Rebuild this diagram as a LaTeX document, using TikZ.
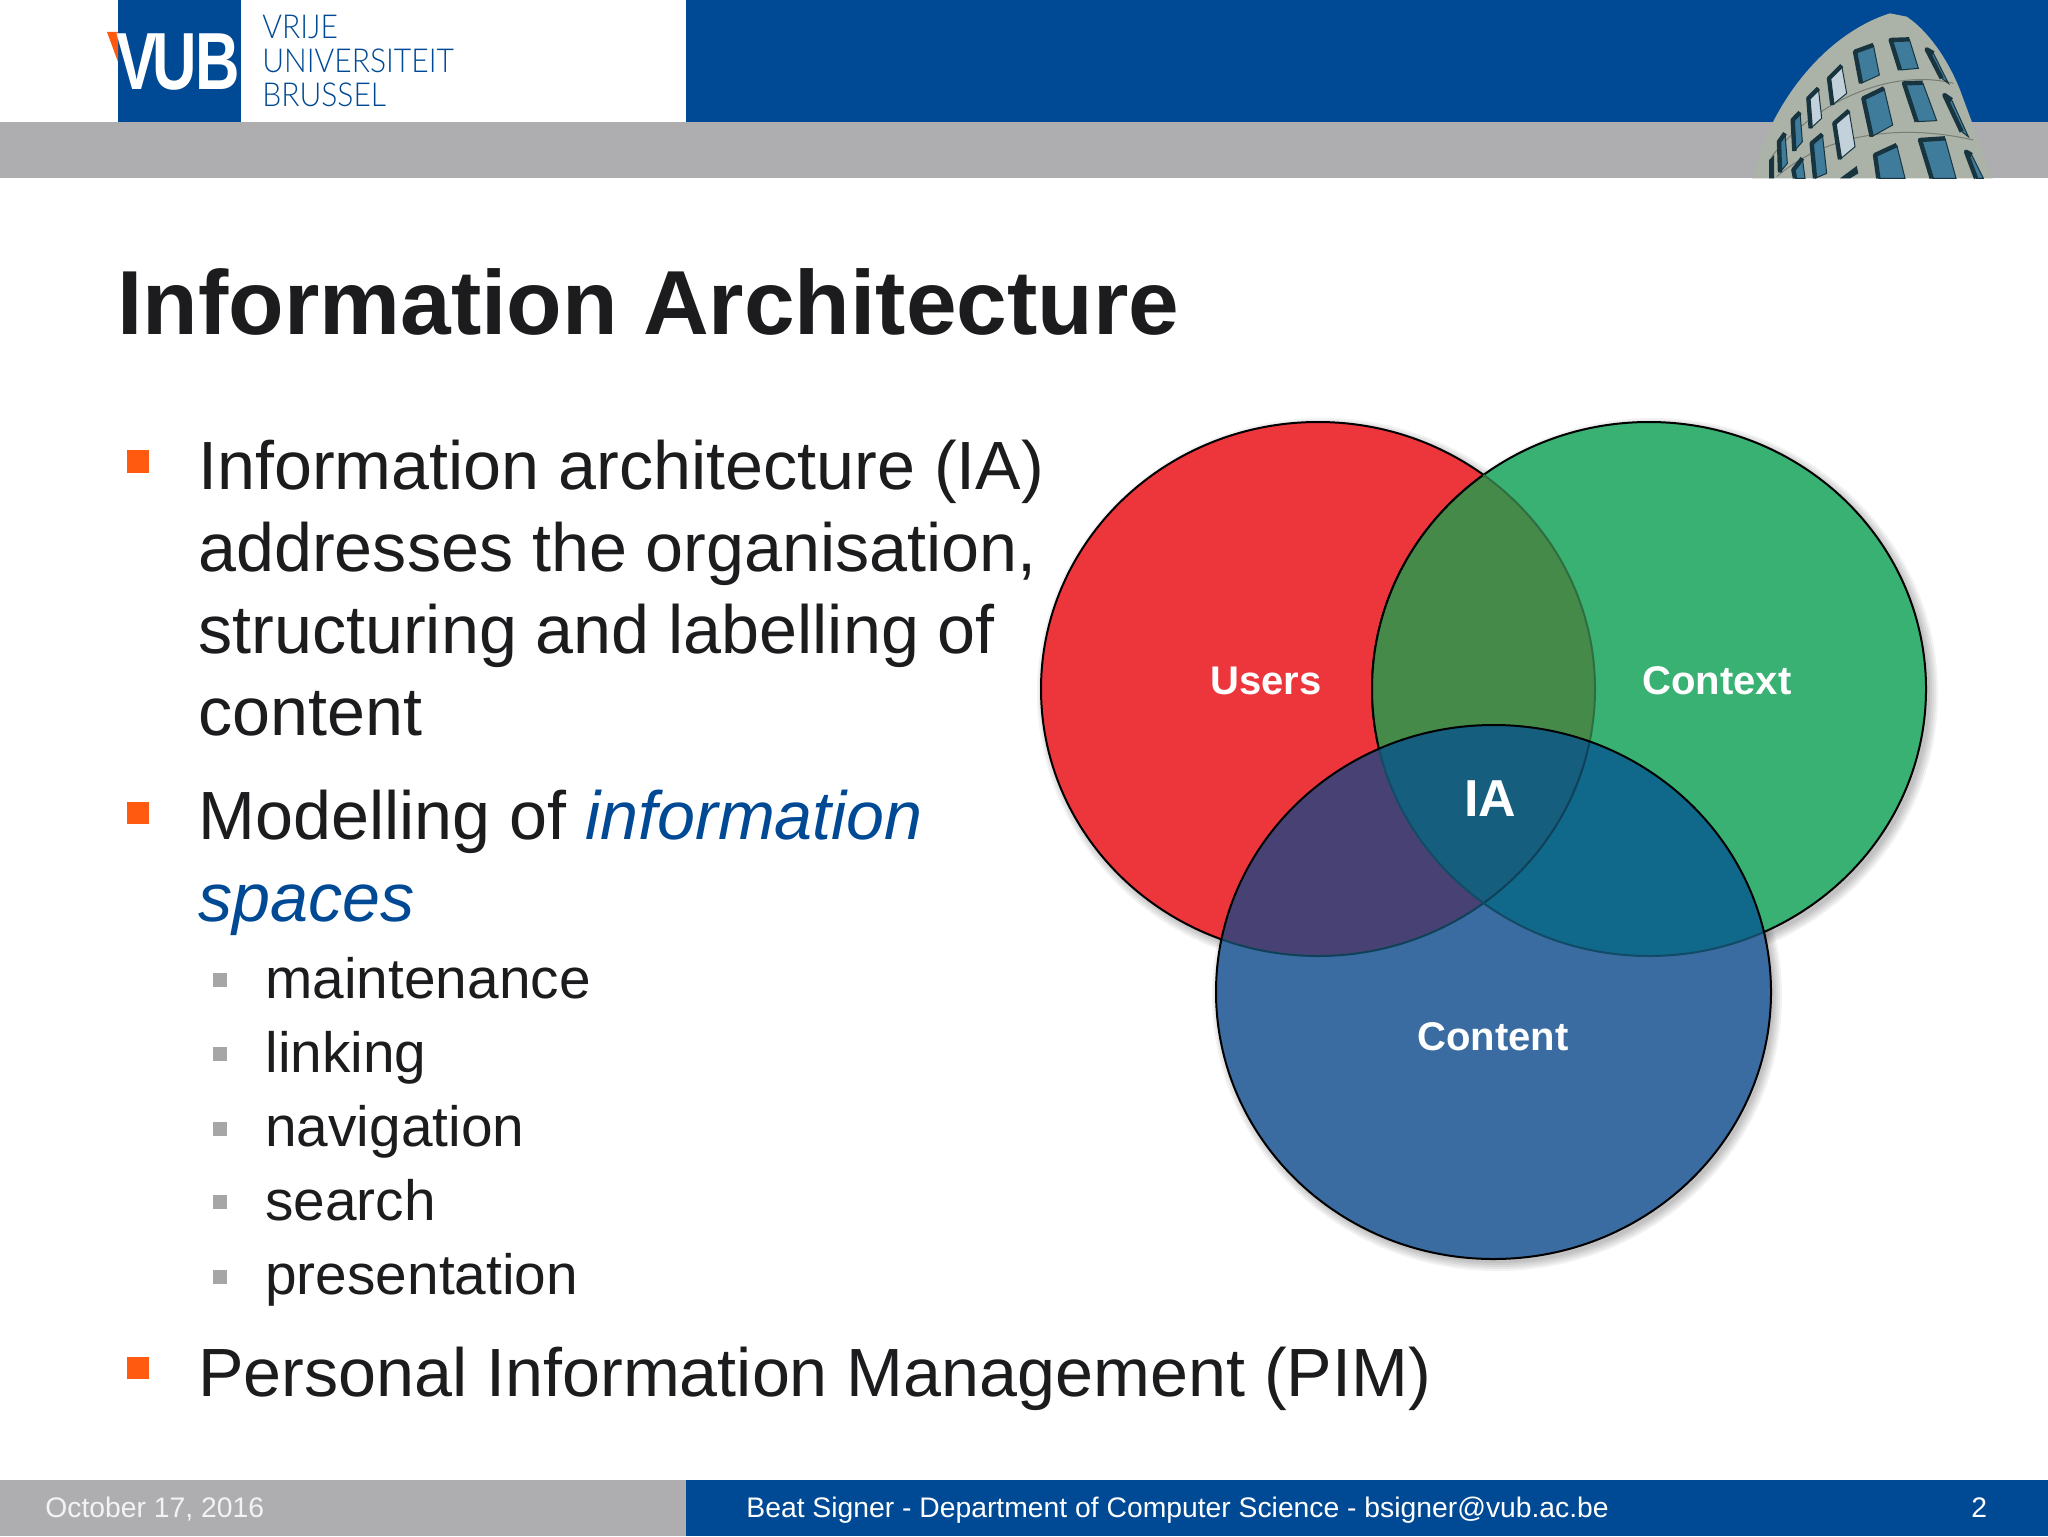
\documentclass[tikz,border=0pt]{standalone}
\usepackage{fontspec}
\setmainfont{Liberation Sans}
\newfontfamily\logofont{Lato Light}
\definecolor{vubblue}{HTML}{004A95}
\definecolor{vubgrey}{HTML}{AEADB0}
\definecolor{vuborange}{HTML}{FF5A0F}
\definecolor{ink}{HTML}{1C1C1E}
\definecolor{cred}{HTML}{EC363C}
\definecolor{cgreen}{HTML}{38B173}
\definecolor{cblue}{HTML}{3A6CA2}
\definecolor{crg}{HTML}{468A49}
\definecolor{crb}{HTML}{484274}
\definecolor{cgb}{HTML}{10688B}
\definecolor{crgb}{HTML}{155E7E}
\definecolor{wall}{HTML}{ABB2A8}
\definecolor{pane}{HTML}{3F7C9C}
\definecolor{lightpane}{HTML}{C3D2DA}
\definecolor{frame}{HTML}{17343F}
\def\usersPath{(1318,689) ellipse [x radius=277,y radius=267]}
\def\contextPath{(1649,689) ellipse [x radius=277,y radius=267]}
\def\contentPath{(1493.5,992) ellipse [x radius=277.5,y radius=267]}
% a window: fill, then the dark reveal along its top and left edges
\newcommand{\bwin}[5]{\fill[#1] #2 -- #3 -- #4 -- #5 -- cycle;
 \draw[frame,line width=2.2pt,line join=round] #5 -- #2 -- #3;
 \draw[frame,line width=0.5pt] #3 -- #4 -- #5;}
\tikzset{
 txt/.style={anchor=base west,inner sep=0pt,text=ink,font=\fontsize{34.12}{34.12}\selectfont},
 subtxt/.style={txt,font=\fontsize{28.4}{28.4}\selectfont},
 titletxt/.style={txt,font=\fontsize{45.5}{45.5}\selectfont\bfseries},
 vennlabel/.style={anchor=center,inner sep=0pt,text=white,font=\fontsize{20}{20}\selectfont\bfseries},
 foottxt/.style={anchor=base west,inner sep=0pt,font=\fontsize{14.15}{14.15}\selectfont},
 logotxt/.style={anchor=base west,inner sep=0pt,text=vubblue,font=\fontsize{16.5}{16.5}\selectfont\logofont},
 bul/.style={fill=vuborange},
 subbul/.style={fill=gray!70},
 outl/.style={line width=1pt},
}
\begin{document}
\begin{tikzpicture}[x=0.5pt,y=-0.5pt]
\useasboundingbox (0,0) rectangle (2048,1536);
\fill[white] (0,0) rectangle (2048,1536);
% header
\fill[vubblue] (686,0) rectangle (2048,122);
\fill[vubgrey] (0,122) rectangle (2048,178);
\fill[vubblue] (118,0) rectangle (241,122);
\fill[vuborange] (107,32) -- (118,32) -- (118,62) -- cycle;
\node[anchor=base west,inner sep=0pt,text=white] (vub) at (116,90) {\fontsize{40.5}{40.5}\selectfont\bfseries\scalebox{0.76}[1]{V\kern-3pt U\kern-1pt B}};
\node[logotxt] (vrije) at (262,39) {\scalebox{0.91}[1]{VRIJE}};
\node[logotxt] (univ) at (262,73) {\scalebox{0.91}[1]{UNIVERSITEIT}};
\node[logotxt] (brussel) at (262,106) {\scalebox{0.91}[1]{BRUSSEL}};
% building
\begin{scope}[shift={(1700,0)},x=0.16667pt,y=-0.16667pt]
\fill[wall] (155,535) .. controls (215,300) and (380,100) .. (570,40) -- (620,50) .. controls (680,90) and (740,170) .. (780,270) -- (878,535) -- cycle;
\draw[wall!70!black,line width=0.5pt] (215,470) .. controls (330,320) and (560,200) .. (760,250);
\draw[wall!70!black,line width=0.5pt] (230,530) .. controls (380,400) and (600,370) .. (820,420);
\bwin{pane}{(465,155)}{(520,135)}{(538,225)}{(483,250)}
\bwin{pane}{(572,120)}{(628,118)}{(655,205)}{(600,210)}
\bwin{pane}{(680,148)}{(700,160)}{(745,250)}{(725,235)}
\bwin{lightpane}{(387,235)}{(425,197)}{(440,280)}{(397,315)}
\bwin{pane}{(490,295)}{(552,265)}{(578,375)}{(515,410)}
\bwin{pane}{(612,250)}{(668,248)}{(710,362)}{(650,365)}
\bwin{pane}{(733,285)}{(755,300)}{(805,410)}{(785,395)}
\bwin{lightpane}{(325,295)}{(355,265)}{(365,355)}{(332,385)}
\bwin{lightpane}{(403,370)}{(447,332)}{(465,440)}{(420,478)}
\bwin{pane}{(525,465)}{(590,435)}{(615,535)}{(535,535)}
\bwin{pane}{(660,420)}{(735,415)}{(768,535)}{(695,535)}
\bwin{pane}{(798,455)}{(815,465)}{(850,535)}{(828,535)}
\bwin{pane}{(278,360)}{(300,337)}{(307,425)}{(283,453)}
\bwin{pane}{(335,430)}{(367,403)}{(380,520)}{(345,535)}
\bwin{pane}{(237,425)}{(255,400)}{(262,490)}{(240,517)}
\bwin{pane}{(280,510)}{(307,475)}{(315,535)}{(285,535)}
\fill[frame] (420,535) -- (470,498) -- (475,520) -- (450,535) -- cycle;
\fill[frame] (207,480) -- (222,465) -- (222,535) -- (207,535) -- cycle;
\end{scope}
% title
\node[titletxt] (title) at (117,334) {Information Architecture};
% shadows
\foreach \g in {8,6,4,2,0}{
 \fill[black,opacity=0.05] (1322,693) ellipse [x radius=277+\g,y radius=267+\g];
 \fill[black,opacity=0.05] (1653,693) ellipse [x radius=277+\g,y radius=267+\g];
 \fill[black,opacity=0.05] (1497,996) ellipse [x radius=277+\g,y radius=267+\g];
}
% venn
\fill[cred] \usersPath;
\draw[black,outl] \usersPath;
\fill[cgreen] \contextPath;
\draw[black,outl] \contextPath;
\begin{scope}
 \clip \usersPath;
 \fill[crg] \contextPath;
 \draw[black,outl] \contextPath;
\end{scope}
\begin{scope}
 \clip \contextPath;
 \draw[crg!60!black!70!cgreen,outl] \usersPath;
\end{scope}
\fill[cblue] \contentPath;
\begin{scope}
 \clip \contentPath;
 \begin{scope}
  \clip \usersPath;
  \fill[crb] \contentPath;
 \end{scope}
 \begin{scope}
  \clip \contextPath;
  \fill[cgb] \contentPath;
  \clip \usersPath;
  \fill[crgb] \contentPath;
 \end{scope}
 \draw[crgb!70!black,outl] \usersPath;
 \draw[crgb!80!black,outl] \contextPath;
\end{scope}
\draw[black,outl] \contentPath;
\node[vennlabel] (users) at (1266,681) {Users};
\node[vennlabel] (context) at (1717,681) {Context};
\node[vennlabel] (content) at (1493,1037) {Content};
\node[vennlabel,font=\fontsize{26}{26}\selectfont\bfseries] (ia) at (1490,799) {IA};
% body
\fill[bul] (127,450) rectangle (149,473);
\node[txt] (l1) at (198,489) {Information architecture (IA)};
\node[txt] (l2) at (198,571) {addresses the organisation,};
\node[txt] (l3) at (198,653) {structuring and labelling of};
\node[txt] (l4) at (198,735) {content};
\fill[bul] (127,802) rectangle (149,824);
\node[txt] (l5) at (198,839) {Modelling of \textcolor{vubblue}{\itshape information}};
\node[txt,text=vubblue] (l6) at (198,921) {\itshape spaces};
\fill[subbul] (213,973) rectangle (227,987);
\node[subtxt] (s1) at (265,998) {maintenance};
\fill[subbul] (213,1047) rectangle (227,1061);
\node[subtxt] (s2) at (265,1072) {linking};
\fill[subbul] (213,1122) rectangle (227,1136);
\node[subtxt] (s3) at (265,1146) {navigation};
\fill[subbul] (213,1195) rectangle (227,1209);
\node[subtxt] (s4) at (265,1220) {search};
\fill[subbul] (213,1270) rectangle (227,1284);
\node[subtxt] (s5) at (265,1294) {presentation};
\fill[bul] (127,1357) rectangle (149,1379);
\node[txt] (l7) at (198,1396) {Personal Information Management (PIM)};
% footer
\fill[vubgrey] (0,1480) rectangle (686,1536);
\fill[vubblue] (686,1480) rectangle (2048,1536);
\node[foottxt,text=white!85!vubgrey] (date) at (45,1517) {October 17, 2016};
\node[foottxt,text=white] (foot) at (746,1517) {Beat Signer - Department of Computer Science - bsigner@vub.ac.be};
\node[foottxt,text=white] (page) at (1971,1517) {2};
\end{tikzpicture}
\end{document}
